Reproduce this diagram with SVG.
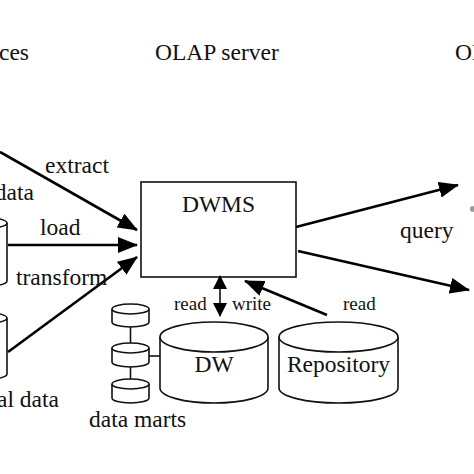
<svg xmlns="http://www.w3.org/2000/svg" width="474" height="474" viewBox="0 0 474 474">
<style>
text{font-family:"Liberation Serif","Times New Roman",serif;fill:#111;font-size:23.5px}
.sm{font-size:19px}
.shape{fill:#fff;stroke:#111;stroke-width:1.6}
.conn{fill:none;stroke:#000;stroke-width:2.6}
.thin{fill:none;stroke:#111;stroke-width:1.6}
</style>
<defs>
<marker id="ah" markerUnits="userSpaceOnUse" markerWidth="20" markerHeight="16" refX="19" refY="8" orient="auto-start-reverse">
<path d="M0,0 L20,8 L0,16 z" fill="#000"/>
</marker>
<marker id="ahs" markerUnits="userSpaceOnUse" markerWidth="14" markerHeight="14" refX="13" refY="7" orient="auto-start-reverse">
<path d="M0,0 L14,7 L0,14 z" fill="#000"/>
</marker>
</defs>
<rect width="474" height="474" fill="#fff"/>
<g id="headers">
<text x="-1" y="60">ces</text>
<text x="155" y="60">OLAP server</text>
<text x="455" y="60">OL</text>
</g>
<g id="source1">
<path class="shape" d="M-47,223 L-47,281 A27,6 0 0 0 7,281 L7,223"/>
<ellipse class="shape" cx="-20" cy="223" rx="27" ry="6"/>
<text x="34" y="200" text-anchor="end">data</text>
</g>
<g id="source2">
<path class="shape" d="M-47,318 L-47,374 A27,6 0 0 0 7,374 L7,318"/>
<ellipse class="shape" cx="-20" cy="318" rx="27" ry="6"/>
<text x="59" y="407" text-anchor="end">al data</text>
</g>
<g id="dwms">
<rect class="shape" x="141" y="182" width="155" height="95"/>
<text x="218.5" y="212" text-anchor="middle">DWMS</text>
</g>
<g id="dw">
<path class="shape" d="M160,337 L160,388 A54,15 0 0 0 268,388 L268,337"/>
<ellipse class="shape" cx="214" cy="337" rx="54" ry="15"/>
<text x="214" y="372" text-anchor="middle">DW</text>
</g>
<g id="repository">
<path class="shape" d="M279,337 L279,388 A59.5,15 0 0 0 398,388 L398,337"/>
<ellipse class="shape" cx="338.5" cy="337" rx="59.5" ry="15"/>
<text x="338.5" y="372" text-anchor="middle">Repository</text>
</g>
<g id="datamarts">
<line class="thin" x1="130.5" y1="327" x2="130.5" y2="343"/>
<line class="thin" x1="130.5" y1="367" x2="130.5" y2="379"/>
<line class="thin" x1="149" y1="356" x2="160" y2="356"/>
<path class="shape" d="M112,309 L112,322 A18.5,5 0 0 0 149,322 L149,309"/>
<ellipse class="shape" cx="130.5" cy="309" rx="18.5" ry="5"/>
<path class="shape" d="M112,348 L112,362 A18.5,5 0 0 0 149,362 L149,348"/>
<ellipse class="shape" cx="130.5" cy="348" rx="18.5" ry="5"/>
<path class="shape" d="M112,384 L112,398 A18.5,5 0 0 0 149,398 L149,384"/>
<ellipse class="shape" cx="130.5" cy="384" rx="18.5" ry="5"/>
<text x="89" y="427">data marts</text>
</g>
<g id="client">
<ellipse cx="472.5" cy="209" rx="2.5" ry="3" fill="#999"/>
</g>
<g id="connectors">
<line class="conn" x1="0" y1="152" x2="137" y2="230" marker-end="url(#ah)"/>
<line class="conn" x1="8" y1="245" x2="137" y2="245" marker-end="url(#ah)"/>
<line class="conn" x1="8" y1="352" x2="137" y2="257" marker-end="url(#ah)"/>
<line class="conn" x1="296" y1="227" x2="458" y2="185" marker-end="url(#ah)"/>
<line class="conn" x1="298" y1="251" x2="469" y2="290" marker-end="url(#ah)"/>
<line class="thin" x1="220" y1="276" x2="220" y2="316" marker-start="url(#ahs)" marker-end="url(#ahs)"/>
<line class="conn" x1="327" y1="315" x2="245" y2="281" marker-end="url(#ah)"/>
<text x="45" y="173">extract</text>
<text x="40" y="235">load</text>
<text x="16" y="285">transform</text>
<text x="400" y="238">query</text>
<text class="sm" x="174" y="310">read</text>
<text class="sm" x="232" y="310">write</text>
<text class="sm" x="343" y="310">read</text>
</g>
</svg>
